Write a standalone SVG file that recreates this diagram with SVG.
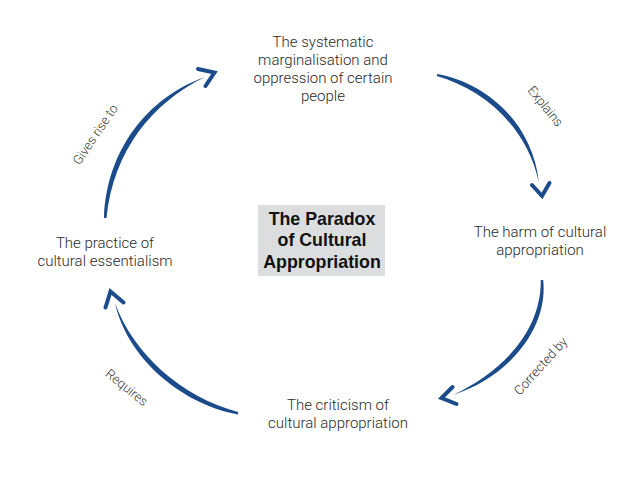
<svg xmlns="http://www.w3.org/2000/svg" width="640" height="480" viewBox="0 0 640 480">
<style>
.t{font-family:Roboto,"Liberation Sans",sans-serif;font-weight:300;font-size:15px;fill:#2a2a2a;text-anchor:middle}
.l{font-family:Roboto,"Liberation Sans",sans-serif;font-weight:300;font-size:13px;fill:#333;text-anchor:middle}
.c{font-family:"Liberation Sans",Arial,sans-serif;font-weight:700;font-size:17.8px;fill:#111;text-anchor:middle}
.a{fill:#1b4b8a}
.h{fill:none;stroke:#1b4b8a;stroke-width:4;stroke-linecap:round;stroke-linejoin:miter}
</style>
<rect width="640" height="480" fill="#fff"/>
<g id="connectors">
<g id="arrow-explains"><path class="a" d="M437.300 74C486 82.700 532.800 122.900 539 183C527.200 127.100 484 89.300 436.700 76Z"/><path class="h" d="M532 185L542 196L549.500 183"/></g>
<g id="arrow-corrected"><path class="a" d="M543.200 280C548.500 330 506.600 378.200 453 395C503.400 371.800 541.500 330 540.800 280Z"/><path class="h" d="M452.500 387L441.500 398L456.500 404"/></g>
<g id="arrow-requires"><path class="a" d="M238 414.500C178.600 403.200 126.700 356.100 115 303C133.300 353.900 181.400 396.800 238 412Z"/><path class="h" d="M105.500 307.500L110.500 291.500L123.500 302.500"/></g>
<g id="arrow-gives"><path class="a" d="M104 218C106.500 149.600 147.900 97.200 205 77C152.100 102.800 113.500 150.400 106.500 218Z"/><path class="h" d="M198 69L214.500 72.500L205.500 86"/></g>
</g>
<g id="node-center"><rect x="258" y="205" width="127" height="71" fill="#dcdddf"/><text class="c" x="322" y="225">The Paradox</text><text class="c" x="322" y="246">of Cultural</text><text class="c" x="322" y="268">Appropriation</text></g>
<g id="node-top"><text class="t" x="323" y="47">The systematic</text><text class="t" x="323" y="65">marginalisation and</text><text class="t" x="323" y="83">oppression of certain</text><text class="t" x="323" y="101">people</text></g>
<g id="node-right"><text class="t" x="540" y="237">The harm of cultural</text><text class="t" x="540" y="255">appropriation</text></g>
<g id="node-bottom"><text class="t" x="338" y="410">The criticism of</text><text class="t" x="338" y="428">cultural appropriation</text></g>
<g id="node-left"><text class="t" x="105" y="248">The practice of</text><text class="t" x="105" y="266">cultural essentialism</text></g>
<g id="labels">
<text class="l" transform="translate(542 109) rotate(51)" x="0" y="0">Explains</text>
<text class="l" transform="translate(544 369) rotate(-48)" x="0" y="0">Corrected by</text>
<text class="l" transform="translate(124 391) rotate(39)" x="0" y="0">Requires</text>
<text class="l" transform="translate(99 137) rotate(-56)" x="0" y="0">Gives rise to</text>
</g>
</svg>
